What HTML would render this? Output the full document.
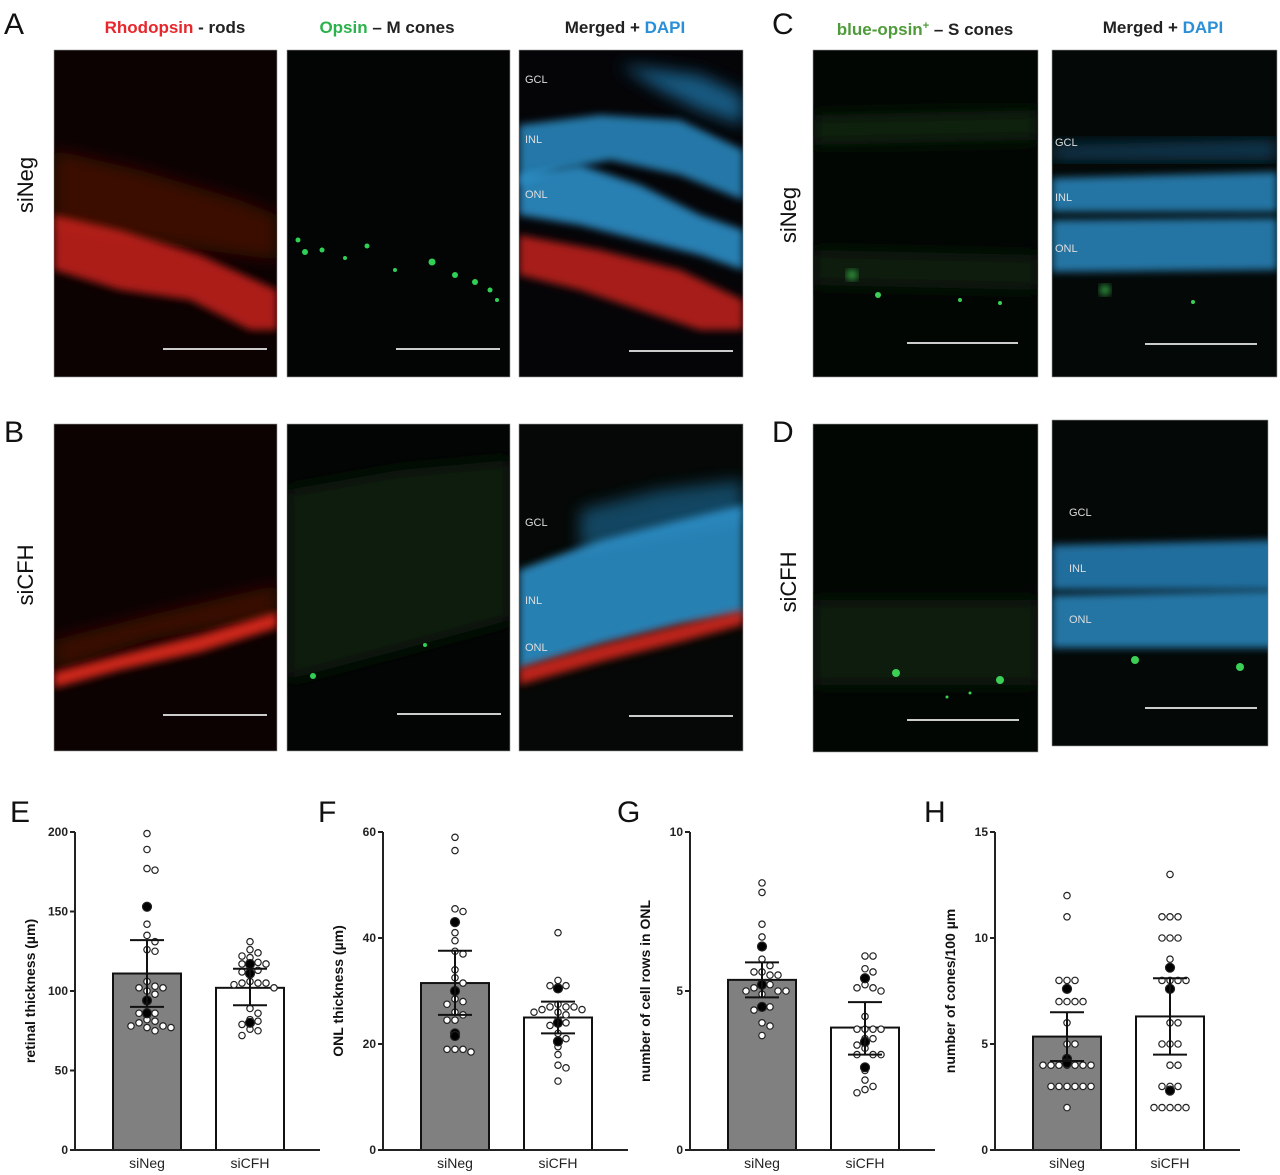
<!DOCTYPE html>
<html><head><meta charset="utf-8">
<style>
html,body{margin:0;padding:0;background:#fff;}
body{width:1280px;height:1175px;overflow:hidden;position:relative;font-family:"Liberation Sans",sans-serif;}
svg{position:absolute;left:0;top:0;}
</style></head>
<body>
<svg id="fig" width="1280" height="1175" viewBox="0 0 1280 1175" xmlns="http://www.w3.org/2000/svg">
<defs>
<filter id="b3" x="-20%" y="-20%" width="140%" height="140%"><feGaussianBlur stdDeviation="4"/></filter>
<filter id="b6" x="-20%" y="-20%" width="140%" height="140%"><feGaussianBlur stdDeviation="8"/></filter>
<clipPath id="cA1"><rect x="54" y="50" width="223" height="327"/></clipPath>
<clipPath id="cA2"><rect x="287" y="50" width="223" height="327"/></clipPath>
<clipPath id="cA3"><rect x="519" y="50" width="224" height="327"/></clipPath>
<clipPath id="cB1"><rect x="54" y="424" width="223" height="327"/></clipPath>
<clipPath id="cB2"><rect x="287" y="424" width="223" height="327"/></clipPath>
<clipPath id="cB3"><rect x="519" y="424" width="224" height="327"/></clipPath>
<clipPath id="cC1"><rect x="813" y="50" width="225" height="327"/></clipPath>
<clipPath id="cC2"><rect x="1052" y="50" width="225" height="327"/></clipPath>
<clipPath id="cD1"><rect x="813" y="424" width="225" height="328"/></clipPath>
<clipPath id="cD2"><rect x="1052" y="420" width="216" height="326"/></clipPath>
</defs>

<g font-family="Liberation Sans, sans-serif" font-size="30" fill="#111">
<text x="4" y="34">A</text>
<text x="4" y="442">B</text>
<text x="772" y="34">C</text>
<text x="772" y="442">D</text>
<text x="10" y="822">E</text>
<text x="318" y="822">F</text>
<text x="617" y="822">G</text>
<text x="924" y="822">H</text>
</g>

<g font-family="Liberation Sans, sans-serif" font-size="17" font-weight="bold" text-anchor="middle">
<text x="175" y="33"><tspan fill="#e8262b">Rhodopsin</tspan><tspan fill="#222"> - rods</tspan></text>
<text x="387" y="33"><tspan fill="#2bb24c">Opsin</tspan><tspan fill="#222"> – M cones</tspan></text>
<text x="625" y="33"><tspan fill="#222">Merged + </tspan><tspan fill="#2a8fd6">DAPI</tspan></text>
<text x="925" y="35"><tspan fill="#4f9a3a">blue-opsin</tspan><tspan fill="#4f9a3a" font-size="11" dy="-6">+</tspan><tspan fill="#222" dy="6"> – S cones</tspan></text>
<text x="1163" y="33"><tspan fill="#222">Merged + </tspan><tspan fill="#2a8fd6">DAPI</tspan></text>
</g>

<g font-family="Liberation Sans, sans-serif" font-size="22" fill="#111" text-anchor="middle">
<text transform="translate(33,185) rotate(-90)">siNeg</text>
<text transform="translate(33,575) rotate(-90)">siCFH</text>
<text transform="translate(796,215) rotate(-90)">siNeg</text>
<text transform="translate(796,582) rotate(-90)">siCFH</text>
</g>

<g>
<rect x="54" y="50" width="223" height="327" fill="#0c0202" stroke="#999" stroke-width="0.6"/>
<g clip-path="url(#cA1)">
<polygon points="54,150 140,170 240,200 277,215 277,260 54,230" fill="#3a0806" filter="url(#b6)"/>
<polygon points="54,215 120,230 200,255 277,290 277,330 250,330 190,300 120,290 54,270" fill="#c8241a" opacity="0.85" filter="url(#b3)"/>
</g>
<line x1="163" y1="349" x2="267" y2="349" stroke="#ccc" stroke-width="2"/>
</g>
<g>
<rect x="287" y="50" width="223" height="327" fill="#020503" stroke="#999" stroke-width="0.6"/>
<g clip-path="url(#cA2)" fill="#2fd055">
<circle cx="298" cy="240" r="2.5"/><circle cx="305" cy="252" r="3"/><circle cx="322" cy="250" r="2.5"/><circle cx="345" cy="258" r="2"/><circle cx="367" cy="246" r="2.5"/><circle cx="395" cy="270" r="2"/><circle cx="432" cy="262" r="3.5"/><circle cx="455" cy="275" r="3"/><circle cx="475" cy="282" r="3"/><circle cx="490" cy="290" r="2.5"/><circle cx="497" cy="300" r="2"/>
</g>
<line x1="396" y1="349" x2="500" y2="349" stroke="#ccc" stroke-width="2"/>
</g>
<g>
<rect x="519" y="50" width="224" height="327" fill="#050508" stroke="#999" stroke-width="0.6"/>
<g clip-path="url(#cA3)">
<polygon points="620,65 700,75 743,95 743,125 700,110 660,90" fill="#1a6fa0" opacity="0.8" filter="url(#b6)"/>
<polygon points="519,125 600,115 680,120 743,150 743,200 680,175 610,160 560,170 519,185" fill="#2a8cc4" opacity="0.85" filter="url(#b3)"/>
<polygon points="519,175 580,165 640,185 700,215 743,230 743,270 700,255 640,240 580,225 519,215" fill="#2f95d0" opacity="0.85" filter="url(#b3)"/>
<polygon points="519,235 600,250 680,270 743,300 743,330 700,330 640,310 580,290 519,275" fill="#c4241a" opacity="0.85" filter="url(#b3)"/>
</g>
<g font-family="Liberation Sans, sans-serif" font-size="11" fill="#ddd">
<text x="525" y="83">GCL</text><text x="525" y="143">INL</text><text x="525" y="198">ONL</text>
</g>
<line x1="629" y1="351" x2="733" y2="351" stroke="#ccc" stroke-width="2"/>
</g>

<g>
<rect x="54" y="424" width="223" height="327" fill="#0c0202" stroke="#999" stroke-width="0.6"/>
<g clip-path="url(#cB1)">
<polygon points="54,640 150,615 277,585 277,615 150,640 54,670" fill="#3a0806" filter="url(#b6)"/>
<polygon points="54,672 120,655 200,635 277,612 277,628 200,652 120,670 54,688" fill="#e02a1a" opacity="0.9" filter="url(#b3)"/>
</g>
<line x1="163" y1="715" x2="267" y2="715" stroke="#ccc" stroke-width="2"/>
</g>
<g>
<rect x="287" y="424" width="223" height="327" fill="#020503" stroke="#999" stroke-width="0.6"/>
<g clip-path="url(#cB2)">
<polygon points="287,490 400,470 510,460 510,620 400,650 287,680" fill="#0b1f0e" filter="url(#b6)"/>
<circle cx="313" cy="676" r="3" fill="#2fd055"/><circle cx="425" cy="645" r="2" fill="#2fd055"/>
</g>
<line x1="397" y1="714" x2="501" y2="714" stroke="#ccc" stroke-width="2"/>
</g>
<g>
<rect x="519" y="424" width="224" height="327" fill="#050806" stroke="#999" stroke-width="0.6"/>
<g clip-path="url(#cB3)">
<polygon points="580,510 660,490 743,480 743,520 660,535 580,550" fill="#1e6f9f" opacity="0.6" filter="url(#b6)"/>
<polygon points="519,570 600,540 680,520 743,505 743,615 680,625 600,645 519,670" fill="#2f95d0" opacity="0.85" filter="url(#b3)"/>
<polygon points="519,668 600,645 680,625 743,610 743,625 680,642 600,662 519,685" fill="#d0281a" opacity="0.9" filter="url(#b3)"/>
</g>
<g font-family="Liberation Sans, sans-serif" font-size="11" fill="#ddd">
<text x="525" y="526">GCL</text><text x="525" y="604">INL</text><text x="525" y="651">ONL</text>
</g>
<line x1="629" y1="716" x2="733" y2="716" stroke="#ccc" stroke-width="2"/>
</g>

<g>
<rect x="813" y="50" width="225" height="327" fill="#020603" stroke="#999" stroke-width="0.6"/>
<g clip-path="url(#cC1)">
<polygon points="813,115 1038,110 1038,140 813,145" fill="#0c200e" filter="url(#b6)"/>
<polygon points="813,250 1038,255 1038,290 813,285" fill="#0a1c0d" filter="url(#b6)"/>
<circle cx="852" cy="275" r="5" fill="#3bbd4e" filter="url(#b3)"/><circle cx="878" cy="295" r="3" fill="#3bd055"/><circle cx="960" cy="300" r="2" fill="#3bd055"/><circle cx="1000" cy="303" r="2" fill="#3bd055"/>
</g>
<line x1="907" y1="343" x2="1018" y2="343" stroke="#ccc" stroke-width="2"/>
</g>
<g>
<rect x="1052" y="50" width="225" height="327" fill="#040807" stroke="#999" stroke-width="0.6"/>
<g clip-path="url(#cC2)">
<polygon points="1052,145 1277,140 1277,160 1052,160" fill="#103a55" filter="url(#b6)"/>
<polygon points="1052,178 1277,172 1277,212 1052,212" fill="#2a88c0" opacity="0.85" filter="url(#b3)"/>
<polygon points="1052,220 1277,218 1277,270 1052,272" fill="#2a88c0" opacity="0.85" filter="url(#b3)"/>
<circle cx="1105" cy="290" r="5" fill="#3bbd4e" filter="url(#b3)"/><circle cx="1193" cy="302" r="2" fill="#3bd055"/>
</g>
<g font-family="Liberation Sans, sans-serif" font-size="11" fill="#ddd">
<text x="1055" y="146">GCL</text><text x="1055" y="201">INL</text><text x="1055" y="252">ONL</text>
</g>
<line x1="1145" y1="344" x2="1257" y2="344" stroke="#ccc" stroke-width="2"/>
</g>

<g>
<rect x="813" y="424" width="225" height="328" fill="#020603" stroke="#999" stroke-width="0.6"/>
<g clip-path="url(#cD1)">
<polygon points="813,600 1038,600 1038,685 813,685" fill="#081a0b" filter="url(#b6)"/>
<circle cx="896" cy="673" r="4" fill="#3bd055"/><circle cx="1000" cy="680" r="4" fill="#3bd055"/><circle cx="947" cy="697" r="1.5" fill="#3bd055"/><circle cx="970" cy="693" r="1.5" fill="#3bd055"/>
</g>
<line x1="907" y1="720" x2="1019" y2="720" stroke="#ccc" stroke-width="2"/>
</g>
<g>
<rect x="1052" y="420" width="216" height="326" fill="#040807" stroke="#999" stroke-width="0.6"/>
<g clip-path="url(#cD2)">
<polygon points="1052,545 1277,540 1277,590 1052,590" fill="#2680b8" opacity="0.85" filter="url(#b3)"/>
<polygon points="1052,595 1277,590 1277,648 1052,648" fill="#2a88c0" opacity="0.85" filter="url(#b3)"/>
<circle cx="1135" cy="660" r="4" fill="#3bd055"/><circle cx="1240" cy="667" r="4" fill="#3bd055"/>
</g>
<g font-family="Liberation Sans, sans-serif" font-size="11" fill="#ddd">
<text x="1069" y="516">GCL</text><text x="1069" y="572">INL</text><text x="1069" y="623">ONL</text>
</g>
<line x1="1145" y1="708" x2="1257" y2="708" stroke="#ccc" stroke-width="2"/>
</g>

<g id="charts"></g>
</svg>

<script>
const categories = ["siNeg", "siCFH"];
const yLabels = ["retinal thickness (µm)", "ONL thickness (µm)", "number of cell rows in ONL", "number of cones/100 µm"];
const yMaxes = [200, 60, 10, 15];
const tickE = [0, 50, 100, 150, 200];
const tickF = [0, 20, 40, 60];
const tickG = [0, 5, 10];
const tickH = [0, 5, 10, 15];
const meansE = [111, 102];
const meansF = [31.5, 25];
const meansG = [5.35, 3.85];
const meansH = [5.35, 6.3];
const errLowE = [90, 91];   const errHighE = [132, 114];
const errLowF = [25.5, 22]; const errHighF = [37.6, 28];
const errLowG = [4.8, 3.0]; const errHighG = [5.9, 4.65];
const errLowH = [4.2, 4.5]; const errHighH = [6.5, 8.1];
const openE_neg = [199,189,177,176,142,135,131,126,125,106,103,102,102,100,98,87,86,86,82,81,80,78,78,77,77,75];
const openE_cfh = [131,126,124,122,121,118,117,117,116,113,112,106,105,105,105,104,102,89,86,82,81,79,76,75,72];
const fillE_neg = [153,94,86];
const fillE_cfh = [117,111,80];
const openF_neg = [59,56.5,45.5,45,41,39.5,37.5,37,34,32.5,31.5,28.5,28,27.5,26,25.5,24.5,24.5,19,19,19,18.5];
const openF_cfh = [41,32,31,31,30.5,27.5,27,27,27,26.5,26.5,26,26,25.5,24.5,24,23.5,22,21,19.5,18,16,15.5,13];
const fillF_neg = [43,30,22,21.5];
const fillF_cfh = [30.5,24,20.5];
const openG_neg = [8.4,8.1,7.1,6.7,6.0,5.8,5.6,5.6,5.5,5.5,5.2,5.2,5.1,5.0,5.0,5.0,4.9,4.5,4.5,4.4,4.0,3.9,3.6];
const openG_cfh = [6.1,6.1,5.7,5.6,5.2,5.1,5.1,5.0,4.2,3.8,3.8,3.8,3.8,3.5,3.5,3.3,3.2,3.0,3.0,3.0,2.5,2.2,2.0,1.9,1.8];
const fillG_neg = [6.4,5.2,4.5];
const fillG_cfh = [5.4,3.4,2.6];
const openH_neg = [12,11,8,8,8,7,7,7,7,6,5,5,4,4,4,4,4,4,4,3,3,3,3,3,3,2];
const openH_cfh = [13,11,11,11,10,10,10,9,8,8,8,8,6,6,5,5,5,4,4,3,3,3,2,2,2,2,2];
const fillH_neg = [7.6,4.3,4.1];
const fillH_cfh = [8.6,7.6,2.8];

const NS = "http://www.w3.org/2000/svg";
const root = document.getElementById("charts");
function mk(tag, attrs, parent) {
  const e = document.createElementNS(NS, tag);
  for (const k in attrs) e.setAttribute(k, attrs[k]);
  (parent || root).appendChild(e);
  return e;
}

const panels = [
  {key:"e", ax:75,  ticks:tickE, means:meansE, lo:errLowE, hi:errHighE, open:[openE_neg, openE_cfh], fill:[fillE_neg, fillE_cfh]},
  {key:"f", ax:383, ticks:tickF, means:meansF, lo:errLowF, hi:errHighF, open:[openF_neg, openF_cfh], fill:[fillF_neg, fillF_cfh]},
  {key:"g", ax:690, ticks:tickG, means:meansG, lo:errLowG, hi:errHighG, open:[openG_neg, openG_cfh], fill:[fillG_neg, fillG_cfh]},
  {key:"h", ax:995, ticks:tickH, means:meansH, lo:errLowH, hi:errHighH, open:[openH_neg, openH_cfh], fill:[fillH_neg, fillH_cfh]}
];
const yTop = 832, yBot = 1150;

panels.forEach((p, pi) => {
  const g = mk("g", {});
  
  
  const ymax = yMaxes[pi];
  const yS = v => yBot - (v / ymax) * (yBot - yTop);
  const xC = i => p.ax + 72 + i * 103;
  categories.forEach((c, i) => {
    const r = mk("rect", {x: xC(i) - 34, y: yS(p.means[i]), width: 68, height: yBot - yS(p.means[i]),
      fill: i === 0 ? "#808080" : "#fff", stroke: "#111", "stroke-width": 2}, g);
    
    
  });
  categories.forEach((c, i) => {
    const pts = [];
    p.open[i].forEach(v => pts.push({v, f:false}));
    p.fill[i].forEach(v => pts.push({v, f:true}));
    const placed = [];
    pts.forEach(pt => {
      const y = yS(pt.v);
      const rr = pt.f ? 4.5 : 3.2;
      let x = xC(i);
      for (let k = 0; k < 20; k++) {
        const off = (k === 0 ? 0 : (k % 2 ? 1 : -1) * Math.ceil(k / 2) * 8);
        const cx = xC(i) + off;
        if (pt.f || !placed.some(q => Math.hypot(q.x - cx, q.y - y) < 7.8)) { x = cx; break; }
      }
      placed.push({x, y});
      const dot = mk("circle", {cx: x, cy: y, r: rr, fill: pt.f ? "#000" : "#fff", stroke: "#222", "stroke-width": 1.2}, g);
      
      
    });
  });
  categories.forEach((c, i) => {
    const x = xC(i);
    const eg = mk("g", {stroke: "#111", "stroke-width": 2}, g);
    
    
    mk("line", {x1: x, x2: x, y1: yS(p.lo[i]), y2: yS(p.hi[i])}, eg);
    mk("line", {x1: x - 17, x2: x + 17, y1: yS(p.lo[i]), y2: yS(p.lo[i])}, eg);
    mk("line", {x1: x - 17, x2: x + 17, y1: yS(p.hi[i]), y2: yS(p.hi[i])}, eg);
  });
  const axg = mk("g", {stroke: "#222", "stroke-width": 2}, g);
  
  
  mk("line", {x1: p.ax, x2: p.ax, y1: yTop, y2: yBot + 1}, axg);
  mk("line", {x1: p.ax - 1, x2: p.ax + 245, y1: yBot, y2: yBot}, axg);
  p.ticks.forEach(t => {
    mk("line", {x1: p.ax - 5, x2: p.ax, y1: yS(t), y2: yS(t)}, axg);
    const tt = mk("text", {x: p.ax - 7, y: yS(t) + 4, "text-anchor": "end", "font-size": 12, "font-weight": "bold",
      "font-family": "Liberation Sans, sans-serif", fill: "#222", stroke: "none"}, g);
    tt.textContent = t;
    
    
  });
  categories.forEach((c, i) => {
    const t = mk("text", {x: xC(i), y: 1168, "text-anchor": "middle", "font-size": 14,
      "font-family": "Liberation Sans, sans-serif", fill: "#222"}, g);
    t.textContent = c;
    
    
  });
  const yl = mk("text", {transform: "translate(" + (p.ax - 40) + ",991) rotate(-90)", "text-anchor": "middle",
    "font-size": 14, "font-weight": "bold", "font-family": "Liberation Sans, sans-serif", fill: "#111"}, g);
  yl.textContent = yLabels[pi];
  
  
});
</script>
</body></html>
